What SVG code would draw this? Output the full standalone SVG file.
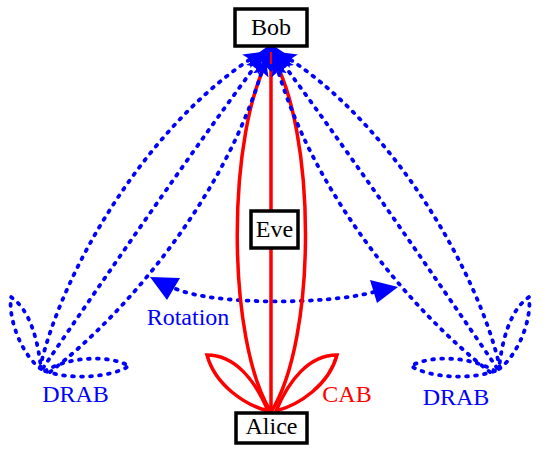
<svg xmlns="http://www.w3.org/2000/svg" width="550" height="456" viewBox="0 0 550 456">
<style>
.box{fill:#fff;stroke:#000;stroke-width:3.5}
.lbl{font-family:"Liberation Serif","Times New Roman",serif;font-size:24px;text-anchor:middle}
.blue{fill:none;stroke:#0000FF;stroke-width:3.8;stroke-dasharray:1.8 7.2;stroke-linecap:round}
.red{fill:none;stroke:#FF0000;stroke-width:3.5}
</style>
<defs>
<marker id="ab" viewBox="0 0 18 16" refX="16" refY="8" markerWidth="18" markerHeight="16" markerUnits="userSpaceOnUse" orient="auto">
<path d="M0,0 L18,8 L0,16 L4,8 Z" fill="#0000FF"/>
</marker>
<g id="drabL">
<path class="blue" d="M40,368 C62,270 150,120 260,53" marker-end="url(#ab)"/>
<path class="blue" d="M43,368 C110,270 200,140 262,57" marker-end="url(#ab)"/>
<path class="blue" d="M50,372 C130,310 230,190 265,60" marker-end="url(#ab)"/>
<path class="blue" d="M41,369 C22,355 8,320 11,297 C30,310 38,340 41,369 Z"/>
<path class="blue" d="M45,371 C70,356 110,355 129,366 C110,378 70,380 45,371 Z"/>
</g>
</defs>
<g id="connectors">
<path class="blue" d="M176,289 C215,305 325,305 374,292"/>
<polygon points="150,277 180,278 167,300" fill="#0000FF"/>
<polygon points="398,287 370,280 377,303" fill="#0000FF"/>
<line class="red" x1="271" y1="412" x2="271" y2="54"/>
<path class="red" d="M271,412 C226,340 226,130 271,54"/>
<path class="red" d="M271,412 C317,340 317,130 271,54"/>
<path class="red" d="M268,411 C255,380 235,355 207,355 C215,385 245,405 268,411 Z"/>
<path class="red" d="M276,411 C289,380 309,355 337,355 C329,385 299,405 276,411 Z"/>
<use href="#drabL"/>
<use href="#drabL" transform="matrix(-1 0 0 1 540 0)"/>
<polygon points="271,44 251,58 262,62 271,72 280,62 292,58" fill="#0000FF"/>
<line x1="271" y1="52" x2="271" y2="64" stroke="#FF0000" stroke-width="2"/>
</g>
<g id="bob">
<rect class="box" x="235" y="9" width="72" height="37"/>
<text class="lbl" x="271" y="35">Bob</text>
</g>
<g id="eve">
<rect class="box" x="251" y="211" width="47" height="37"/>
<text class="lbl" x="274.5" y="237">Eve</text>
</g>
<g id="alice">
<rect class="box" x="236" y="413" width="71" height="30"/>
<text class="lbl" x="271.5" y="434">Alice</text>
</g>
<g id="labels">
<text class="lbl" x="75.5" y="402" fill="#0000FF">DRAB</text>
<text class="lbl" x="456" y="405" fill="#0000FF">DRAB</text>
<text class="lbl" x="188" y="325" fill="#0000FF">Rotation</text>
<text class="lbl" x="347" y="402" fill="#FF0000">CAB</text>
</g>
</svg>
